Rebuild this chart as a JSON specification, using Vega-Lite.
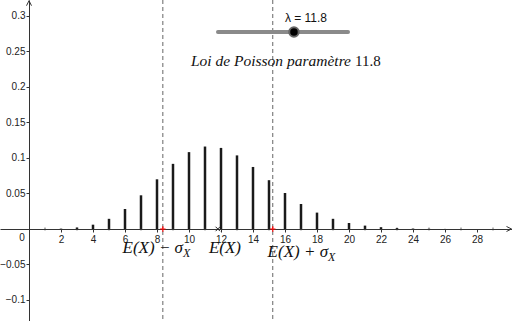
{
  "$schema": "https://vega.github.io/schema/vega-lite/v6.json",
  "width": 512,
  "height": 321,
  "autosize": "none",
  "padding": 0,
  "background": "white",
  "config": {"view": {"stroke": null}, "axis": {"labelOverlap": false, "labelBound": false, "labelFlush": false}},
  "datasets": {
    "pmf": [
      {"k": 0, "p": 0.0000075}, {"k": 1, "p": 0.0000886}, {"k": 2, "p": 0.000522}, {"k": 3, "p": 0.002055},
      {"k": 4, "p": 0.006062}, {"k": 5, "p": 0.014307}, {"k": 6, "p": 0.028137}, {"k": 7, "p": 0.047431},
      {"k": 8, "p": 0.069961}, {"k": 9, "p": 0.091727}, {"k": 10, "p": 0.108238}, {"k": 11, "p": 0.11611},
      {"k": 12, "p": 0.114175}, {"k": 13, "p": 0.103636}, {"k": 14, "p": 0.08735}, {"k": 15, "p": 0.068715},
      {"k": 16, "p": 0.050677}, {"k": 17, "p": 0.035176}, {"k": 18, "p": 0.02306}, {"k": 19, "p": 0.014321},
      {"k": 20, "p": 0.00845}, {"k": 21, "p": 0.004748}, {"k": 22, "p": 0.002547}, {"k": 23, "p": 0.001307},
      {"k": 24, "p": 0.000643}, {"k": 25, "p": 0.000303}, {"k": 26, "p": 0.000138}, {"k": 27, "p": 0.00006},
      {"k": 28, "p": 0.000025}, {"k": 29, "p": 0.00001}, {"k": 30, "p": 0.000004}
    ],
    "minor": [{"k": 1}, {"k": 3}, {"k": 5}, {"k": 7}, {"k": 9}, {"k": 11}, {"k": 13}, {"k": 15}, {"k": 17}, {"k": 19}, {"k": 21}, {"k": 23}, {"k": 25}, {"k": 27}, {"k": 29}],
    "bounds": [{"x": 8.365}, {"x": 15.235}],
    "mean": [{"x": 11.8}],
    "labels": [
      {"lx": 9.625, "ly": -0.0335, "main": "E(X) − σ", "sub": "X"},
      {"lx": 13.25, "ly": -0.0335, "main": "E(X)", "sub": ""},
      {"lx": 18.69, "ly": -0.0395, "main": "E(X) + σ", "sub": "X"}
    ],
    "title": [{"tx": 20.125, "ty": 0.2296, "ital": "Loi de Poisson paramètre", "num": "11.8"}],
    "slider": [{"x0": 11.81, "x1": 19.94, "y": 0.2775, "val": 16.56}],
    "lambda": [{"x": 17.31, "y": 0.2915, "text": "λ = 11.8"}],
    "origin": [{"x": 0, "y": 0, "text": "0"}],
    "arrowUp": [{"x": 0, "y": 0.318}],
    "arrowRight": [{"x": 30.0, "y": 0}]
  },
  "layer": [
    {
      "data": {"name": "pmf"},
      "mark": {"type": "rule", "strokeWidth": 2.5, "color": "#1a1a1a"},
      "encoding": {
        "x": {"field": "k", "type": "quantitative",
          "scale": {"domain": [-1.8125, 30.1875], "nice": false, "zero": false},
          "axis": {"orient": "bottom", "offset": -92, "title": null, "values": [2,4,6,8,10,12,14,16,18,20,22,24,26,28], "tickCount": 60,
            "grid": false, "domainColor": "#333", "domainWidth": 1, "tickColor": "#333", "tickSize": 3,
            "labelOverlap": false, "labelBound": false, "labelFlush": false,
            "labelFont": "Liberation Sans", "labelFontSize": 10, "labelColor": "#222", "labelPadding": 2, "format": "d"}},
        "y": {"field": "p", "type": "quantitative",
          "scale": {"domain": [-0.1296, 0.3225], "nice": false, "zero": false},
          "axis": {"orient": "left", "offset": -29, "title": null, "values": [-0.1,-0.05,0.05,0.1,0.15,0.2,0.25,0.3], "tickCount": 40,
            "grid": false, "domainColor": "#333", "domainWidth": 1, "tickColor": "#333", "tickSize": 3,
            "labelOverlap": false, "labelBound": false, "labelFlush": false,
            "labelFont": "Liberation Sans", "labelFontSize": 10, "labelColor": "#222", "labelPadding": 1, "format": "~g"}},
        "y2": {"datum": 0}
      }
    },
    {
      "data": {"name": "minor"},
      "mark": {"type": "tick", "orient": "vertical", "size": 3, "thickness": 1, "color": "#333"},
      "encoding": {
        "x": {"field": "k", "type": "quantitative", "scale": {"domain": [-1.8125, 30.1875], "nice": false, "zero": false}},
        "y": {"datum": 0, "type": "quantitative", "scale": {"domain": [-0.1296, 0.3225], "nice": false, "zero": false}}
      }
    },
    {
      "data": {"name": "bounds"},
      "mark": {"type": "rule", "strokeDash": [4, 3], "color": "#666", "strokeWidth": 1},
      "encoding": {
        "x": {"field": "x", "type": "quantitative", "scale": {"domain": [-1.8125, 30.1875], "nice": false, "zero": false}}
      }
    },
    {
      "data": {"name": "bounds"},
      "mark": {"type": "point", "shape": "M0,-1L0,1M-1,0L1,0", "size": 30, "filled": false, "color": "#ff0000", "strokeWidth": 1.2, "opacity": 1},
      "encoding": {
        "x": {"field": "x", "type": "quantitative", "scale": {"domain": [-1.8125, 30.1875], "nice": false, "zero": false}},
        "y": {"datum": 0, "type": "quantitative", "scale": {"domain": [-0.1296, 0.3225], "nice": false, "zero": false}}
      }
    },
    {
      "data": {"name": "mean"},
      "mark": {"type": "point", "shape": "M-1,-1L1,1M-1,1L1,-1", "size": 20, "filled": false, "color": "#222", "strokeWidth": 1, "opacity": 1},
      "encoding": {
        "x": {"field": "x", "type": "quantitative", "scale": {"domain": [-1.8125, 30.1875], "nice": false, "zero": false}},
        "y": {"datum": 0, "type": "quantitative", "scale": {"domain": [-0.1296, 0.3225], "nice": false, "zero": false}}
      }
    },
    {
      "data": {"name": "arrowUp"},
      "mark": {"type": "point", "shape": "M-1,1L0,-1L1,1", "size": 25, "filled": false, "color": "#333", "strokeWidth": 1, "opacity": 1},
      "encoding": {
        "x": {"field": "x", "type": "quantitative", "scale": {"domain": [-1.8125, 30.1875], "nice": false, "zero": false}},
        "y": {"field": "y", "type": "quantitative", "scale": {"domain": [-0.1296, 0.3225], "nice": false, "zero": false}}
      }
    },
    {
      "data": {"name": "arrowRight"},
      "mark": {"type": "point", "shape": "M-1,-1L1,0L-1,1", "size": 25, "filled": false, "color": "#333", "strokeWidth": 1, "opacity": 1},
      "encoding": {
        "x": {"field": "x", "type": "quantitative", "scale": {"domain": [-1.8125, 30.1875], "nice": false, "zero": false}},
        "y": {"field": "y", "type": "quantitative", "scale": {"domain": [-0.1296, 0.3225], "nice": false, "zero": false}}
      }
    },
    {
      "data": {"name": "origin"},
      "mark": {"type": "text", "font": "Liberation Sans", "fontSize": 10, "color": "#222", "align": "center", "baseline": "top", "dx": -7, "dy": 4},
      "encoding": {
        "x": {"field": "x", "type": "quantitative", "scale": {"domain": [-1.8125, 30.1875], "nice": false, "zero": false}},
        "y": {"field": "y", "type": "quantitative", "scale": {"domain": [-0.1296, 0.3225], "nice": false, "zero": false}},
        "text": {"field": "text"}
      }
    },
    {
      "data": {"name": "labels"},
      "mark": {"type": "text", "font": "Liberation Serif", "fontStyle": "italic", "fontSize": 17, "color": "#111", "align": "right", "baseline": "alphabetic"},
      "encoding": {
        "x": {"field": "lx", "type": "quantitative", "scale": {"domain": [-1.8125, 30.1875], "nice": false, "zero": false}},
        "y": {"field": "ly", "type": "quantitative", "scale": {"domain": [-0.1296, 0.3225], "nice": false, "zero": false}},
        "text": {"field": "main"}
      }
    },
    {
      "data": {"name": "labels"},
      "mark": {"type": "text", "font": "Liberation Serif", "fontStyle": "italic", "fontSize": 12, "color": "#111", "align": "left", "baseline": "alphabetic", "dx": 0, "dy": 4},
      "encoding": {
        "x": {"field": "lx", "type": "quantitative", "scale": {"domain": [-1.8125, 30.1875], "nice": false, "zero": false}},
        "y": {"field": "ly", "type": "quantitative", "scale": {"domain": [-0.1296, 0.3225], "nice": false, "zero": false}},
        "text": {"field": "sub"}
      }
    },
    {
      "data": {"name": "title"},
      "mark": {"type": "text", "font": "Liberation Serif", "fontStyle": "italic", "fontSize": 15.5, "color": "#111", "align": "right", "baseline": "alphabetic"},
      "encoding": {
        "x": {"field": "tx", "type": "quantitative", "scale": {"domain": [-1.8125, 30.1875], "nice": false, "zero": false}},
        "y": {"field": "ty", "type": "quantitative", "scale": {"domain": [-0.1296, 0.3225], "nice": false, "zero": false}},
        "text": {"field": "ital"}
      }
    },
    {
      "data": {"name": "title"},
      "mark": {"type": "text", "font": "Liberation Serif", "fontSize": 15, "color": "#111", "align": "left", "baseline": "alphabetic", "dx": 4},
      "encoding": {
        "x": {"field": "tx", "type": "quantitative", "scale": {"domain": [-1.8125, 30.1875], "nice": false, "zero": false}},
        "y": {"field": "ty", "type": "quantitative", "scale": {"domain": [-0.1296, 0.3225], "nice": false, "zero": false}},
        "text": {"field": "num"}
      }
    },
    {
      "data": {"name": "slider"},
      "mark": {"type": "rule", "strokeWidth": 4, "color": "#8a8a8a", "strokeCap": "round"},
      "encoding": {
        "x": {"field": "x0", "type": "quantitative", "scale": {"domain": [-1.8125, 30.1875], "nice": false, "zero": false}},
        "x2": {"field": "x1"},
        "y": {"field": "y", "type": "quantitative", "scale": {"domain": [-0.1296, 0.3225], "nice": false, "zero": false}}
      }
    },
    {
      "data": {"name": "slider"},
      "mark": {"type": "point", "shape": "circle", "size": 90, "filled": true, "color": "#000", "stroke": "#666", "strokeWidth": 2, "opacity": 1},
      "encoding": {
        "x": {"field": "val", "type": "quantitative", "scale": {"domain": [-1.8125, 30.1875], "nice": false, "zero": false}},
        "y": {"field": "y", "type": "quantitative", "scale": {"domain": [-0.1296, 0.3225], "nice": false, "zero": false}}
      }
    },
    {
      "data": {"name": "lambda"},
      "mark": {"type": "text", "font": "Liberation Sans", "fontSize": 12, "color": "#111", "align": "center", "baseline": "alphabetic"},
      "encoding": {
        "x": {"field": "x", "type": "quantitative", "scale": {"domain": [-1.8125, 30.1875], "nice": false, "zero": false}},
        "y": {"field": "y", "type": "quantitative", "scale": {"domain": [-0.1296, 0.3225], "nice": false, "zero": false}},
        "text": {"field": "text"}
      }
    }
  ]
}
